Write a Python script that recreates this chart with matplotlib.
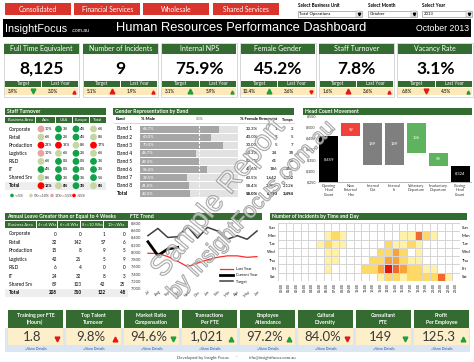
import matplotlib
matplotlib.use("Agg")
import matplotlib.pyplot as plt
from matplotlib.patches import Rectangle, Circle
from matplotlib.colors import ListedColormap, BoundaryNorm
from matplotlib import patheffects as pe
import numpy as np

plt.rcParams["font.family"] = ["Lato", "DejaVu Sans"]

W, H = 474, 362
GREEN = "#346b30"
TAB_RED = "#d9352c"
CREAM = "#fde9b9"
TRI_G = "#1f9e3c"
TRI_R = "#e3161b"

# ---------------- data ----------------
tabs = ["Consolidated", "Financial Services", "Wholesale", "Shared Services"]

kpi_titles = ["Full Time Equivalent", "Number of Incidents", "Internal NPS",
              "Female Gender", "Staff Turnover", "Vacancy Rate"]
kpi_values = ["8,125", "9", "75.9%", "45.2%", "7.8%", "3.1%"]
kpi_target = ["3.9%", "5.1%", "3.1%", "10.4%", "1.6%", "6.8%"]
kpi_target_mark = ["v", "^", "^", "^", "^", "v"]
kpi_target_col = [TRI_G, TRI_R, TRI_G, TRI_G, TRI_R, TRI_R]
kpi_lastyear = ["3.0%", "1.9%", "5.9%", "3.6%", "3.6%", "4.5%"]
kpi_ly_mark = ["^", "^", "^", "v", "^", "^"]
kpi_ly_col = [TRI_R, TRI_R, TRI_G, TRI_R, TRI_R, TRI_G]

areas = ["Corporate", "Retail", "Production", "Logistics", "R&D", "IT", "Shared Srv", "Total"]
regions = ["Asia", "USA", "Europe", "Total"]
turnover = [[10, 3, 4, 6], [6, 2, 4, 8], [23, 16, 8, 17], [10, 6, 2, 6],
            [6, 0, 0, 3], [4, 0, 0, 3], [8, 3, 3, 5], [16, 8, 3, 8]]
turn_legend = ["<=5%", "5%<=10%", "10%<=15%", ">15%"]
turn_colors = ["#12a04a", "#c5d6a0", "#e8a3a6", "#ff0000"]

bands = ["Band 1", "Band 2", "Band 3", "Band 4", "Band 5", "Band 6", "Band 7", "Band 8", "Total"]
male_pct = [66.7, 60.0, 70.0, 46.7, 49.3, 56.4, 39.5, 41.6, 42.0]
perm = [1, 2, 5, 24, 61, 186, 1642, 2909, 4830]
temps = [2, 5, 7, 38, 58, 256, 1002, 2126, 3494]

hc_labels = ["Opening\nHead\nCount", "New\nExternal\nHire", "Internal\nOut", "Internal\nIn",
             "Voluntary\nDeparture", "Involuntary\nDeparture", "Closing\nHead\nCount"]
hc_values = [8459, 59, -189, 189, -136, -58, 8324]
hc_colors = ["black", "#f0413b", "#7f7f7f", "#7f7f7f", "#5fb35f", "#5fb35f", "black"]

leave_cols = ["4<=6 Wks", "6<=8 Wks", "8<=10 Wks", "10<=Wks"]
leave = [[0, 0, 1, 0], [32, 142, 57, 6], [15, 8, 9, 5], [42, 21, 5, 9],
         [6, 4, 0, 0], [24, 32, 8, 3], [89, 103, 42, 25]]

months = ["Jul", "Aug", "Sep", "Oct", "Nov", "Dec", "Jan", "Feb", "Mar", "Apr", "May", "Jun"]
fte_last = [7960, 7960, 7870, 7740, 7590, 7690, 7780, 7850, 7890, 7890, 7850, 7870]
fte_current = [8280, 7900, 8080, 8125]
fte_target = [8450, 8650, 8400, 8420, 8700, 8380, 8680, 8580, 8350, 8450, 8350, 8580]

days = ["Sun", "Mon", "Tue", "Wed", "Thu", "Fri", "Sat"]
hours = [f"{h:02d}:00" for h in range(24)]
incidents = [
    [0, 0, 0, 0, 0, 0, 0, 0, 0, 0, 0, 0, 0, 0, 0, 0, 0, 0, 0, 0, 0, 0, 0, 0],
    [0, 0, 0, 0, 0, 0, 1, 2, 1, 0, 0, 0, 0, 0, 0, 0, 1, 1, 4, 2, 1, 0, 0, 0],
    [0, 0, 0, 0, 0, 1, 2, 1, 1, 0, 0, 0, 0, 0, 2, 1, 1, 2, 1, 0, 0, 0, 0, 0],
    [0, 0, 0, 0, 0, 0, 1, 1, 0, 0, 0, 0, 0, 2, 2, 3, 2, 0, 1, 0, 0, 0, 0, 0],
    [0, 0, 0, 0, 0, 0, 1, 1, 0, 0, 0, 0, 2, 2, 3, 3, 2, 1, 1, 0, 0, 0, 0, 0],
    [0, 0, 0, 0, 0, 0, 1, 0, 0, 0, 0, 2, 2, 3, 5, 4, 3, 2, 2, 1, 1, 0, 0, 0],
    [0, 0, 0, 0, 0, 0, 0, 0, 0, 0, 0, 0, 0, 1, 2, 2, 1, 2, 2, 2, 2, 4, 1, 0],
]

tile_titles = ["Training per FTE\n(Hours)", "Top Talent\nTurnover", "Market Ratio\nCompensation",
               "Transactions\nPer FTE", "Employee\nAttendance", "Cultural\nDiversity",
               "Consultant\nFTE", "Profit\nPer Employee"]
tile_values = ["1.8", "9.8%", "94.6%", "1,021", "97.2%", "84.0%", "149", "125.3"]
tile_mark = ["v", "^", "v", "^", "^", "v", "v", "^"]
tile_col = [TRI_R, TRI_R, TRI_G, TRI_G, TRI_G, TRI_R, TRI_G, TRI_G]

# ---------------- canvas ----------------
fig = plt.figure(figsize=(W / 100, H / 100), dpi=100)
base = fig.add_axes([0, 0, 1, 1])
base.set_xlim(0, W); base.set_ylim(H, 0); base.axis("off")


def rect(x, y, w, h, fc, ec="none", lw=0.4, z=1):
    base.add_patch(Rectangle((x, y), w, h, facecolor=fc, edgecolor=ec, linewidth=lw, zorder=z))


def text(x, y, s, size, color="black", ha="center", va="center", weight="normal", **kw):
    base.text(x, y, s, fontsize=size, color=color, ha=ha, va=va, fontweight=weight, zorder=5, **kw)


def sub(x, y, w, h):
    return fig.add_axes([x / W, 1 - (y + h) / H, w / W, h / H])


def header_bar(x, y, w, title):
    rect(x, y, w, 7, GREEN)
    text(x + 2, y + 3.6, title, 3.7, "white", ha="left", weight="bold")


# top tabs and selectors
for i, t in enumerate(tabs):
    x0 = 5 + i * 69.2
    rect(x0, 3, 66, 12, TAB_RED)
    text(x0 + 33, 9.3, t, 4.8, "white")

for lab, val, x0, w in [("Select Business Unit", "Total Operations", 298, 64),
                        ("Select Month", "October", 368, 49),
                        ("Select Year", "2013", 422, 50)]:
    text(x0, 5.8, lab, 3.3, ha="left", weight="bold")
    rect(x0, 10.8, w, 6.5, "white", ec="#808080")
    text(x0 + 1.5, 14.1, val, 3.1, ha="left")
    rect(x0 + w - 6, 11.3, 5.5, 5.5, "#eeeeee", ec="#909090", lw=0.3)
    base.plot(x0 + w - 3.25, 14.1, marker="v", ms=1.8, color="black", zorder=6)

# title bar
rect(3, 19, 468, 18, "black")
text(5, 28.6, "InsightFocus", 7.8, "white", ha="left", family="Liberation Sans")
text(72, 31, ".com.au", 3.6, "white", ha="left", family="Liberation Sans")
text(241, 28.4, "Human Resources Performance Dashboard", 9.3, "white", family="Liberation Sans")
text(469, 28.6, "October 2013", 6.3, "white", ha="right", family="Liberation Sans")

# KPI cards
for i in range(6):
    x0 = 4 + i * 78.7
    w = 75.5
    rect(x0, 43, w, 54, "white", ec="#c8c8c8", lw=0.5)
    rect(x0 + 0.5, 43.5, w - 1, 10, GREEN)
    text(x0 + w / 2, 48.7, kpi_titles[i], 5.0, "white")
    text(x0 + w / 2, 68.5, kpi_values[i], 12.5, "black", weight="bold")
    rect(x0 + 1, 81, w / 2 - 1.5, 5.5, GREEN)
    rect(x0 + w / 2 + 0.5, 81, w / 2 - 1.5, 5.5, GREEN)
    text(x0 + w / 4 + 0.3, 83.9, "Target", 3.3, "white")
    text(x0 + 3 * w / 4, 83.9, "Last Year", 3.3, "white")
    rect(x0 + 1, 87.5, w - 2, 7.5, CREAM)
    text(x0 + 9, 91.3, kpi_target[i], 3.3)
    base.plot(x0 + 29, 91.3, marker=kpi_target_mark[i], ms=3.4, color=kpi_target_col[i], zorder=6)
    text(x0 + 49, 91.3, kpi_lastyear[i], 3.3)
    base.plot(x0 + w - 5, 91.5, marker=kpi_ly_mark[i], ms=2.2, color=kpi_ly_col[i], zorder=6)

# Staff turnover table
header_bar(5, 108, 101, "Staff Turnover")
cells = [(5, 30), (36, 19), (56, 16), (73, 16), (90, 16)]
for (cx, cw), lab in zip(cells, ["Business Area"] + regions):
    rect(cx, 116.5, cw, 6.5, GREEN)
    text(cx + cw / 2, 119.9, lab, 3.0, "white")
dot_x = [41, 58.5, 76, 93.5]
for r, name in enumerate(areas):
    y = 129 + r * 8.1
    bold = name == "Total"
    if bold:
        rect(5, y - 3.9, 101, 7.8, "#eeeeee")
    text(9, y, name, 3.5, ha="left", weight="bold" if bold else "normal")
    for c, v in enumerate(turnover[r]):
        k = 0 if v <= 5 else 1 if v < 10 else 2 if v < 15 else 3
        base.add_patch(Circle((dot_x[c], y), 2.7, color=turn_colors[k], zorder=4))
        text(dot_x[c] + 4.2, y, f"{v}%", 2.7, ha="left", weight="bold" if bold else "normal")
for k, lab in enumerate(turn_legend):
    lx = [12, 31, 52, 74][k]
    base.add_patch(Circle((lx, 195.5), 1.1, color=turn_colors[k], zorder=4))
    text(lx + 2.3, 195.6, lab, 2.5, "#333333", ha="left")

# Gender representation
header_bar(113, 108, 181, "Gender Representation by Band")
text(116, 119.5, "Band", 3.1, ha="left", weight="bold")
text(141, 119.5, "% Male", 3.1, ha="left", weight="bold")
text(200, 119.5, "50%", 2.8, "#555555")
text(240, 119.5, "% Female", 3.1, ha="left", weight="bold")
text(278, 119.5, "Permanent", 2.8, ha="right", weight="bold")
text(294, 119.5, "Temps", 2.8, ha="right", weight="bold")
base.plot([114, 294], [123, 123], color="#bbbbbb", lw=0.4)
for r, b in enumerate(bands):
    y = 129 + r * 8.1
    bold = b == "Total"
    wt = "bold" if bold else "normal"
    text(117, y, b, 3.5, ha="left", weight=wt)
    text(258, y, f"{100 - male_pct[r]:.1f}%", 3.2, ha="right", weight=wt)
    text(277, y, f"{perm[r]:,}", 3.2, ha="right", weight=wt)
    text(293.5, y, f"{temps[r]:,}", 3.2, ha="right", weight=wt)

gax = sub(140, 125, 98, 73)
yy = np.arange(len(bands))
gax.barh(yy, [82.4] * len(bands), height=0.86, color="#e2e2e2")
gax.barh(yy, male_pct, height=0.86, color="#a6a6a6")
gax.axvline(50, color="white", lw=0.8, ls=(0, (2, 1.5)))
for i, v in enumerate(male_pct):
    gax.text(2, i, f"{v:.1f}%", fontsize=3, color="white", va="center")
gax.set_xlim(0, 82.4); gax.set_ylim(len(bands) - 0.5, -0.5)
gax.axis("off")

# Head count movement (waterfall)
header_bar(303, 108, 169, "Head Count Movement")
hax = sub(318, 114, 153, 68)
level = 0
for i, v in enumerate(hc_values):
    if i == 0 or i == len(hc_values) - 1:
        bottom, height = 0, v
        level = v
        ty = (8250 + v) / 2
    else:
        bottom = level if v > 0 else level + v
        height = abs(v)
        level += v
        ty = bottom + height / 2
    hax.bar(i, height, bottom=bottom, width=0.87, color=hc_colors[i])
    hax.text(i, ty, f"{abs(v):,}", fontsize=3, color="white", ha="center", va="center")
hax.set_ylim(8250, 8559)
hax.set_xlim(-0.5, len(hc_values) - 0.5)
hax.set_yticks(range(8250, 8551, 50))
hax.set_yticklabels([f"{t:,}" for t in range(8250, 8551, 50)])
hax.set_xticks(range(len(hc_labels)))
hax.set_xticklabels(hc_labels, linespacing=1.1)
hax.tick_params(axis="both", length=0, labelsize=2.7, colors="#333333", pad=1.5)
for s in ["top", "right", "left"]:
    hax.spines[s].set_visible(False)
hax.spines["bottom"].set_color("#999999"); hax.spines["bottom"].set_linewidth(0.5)
hax.patch.set_alpha(0)

# Annual leave table
header_bar(5, 213, 123, "Annual Leave Greater than or Equal to 4 Weeks")
lcells = [(5, 31), (37, 20), (58, 22), (81, 22), (104, 24)]
for (cx, cw), lab in zip(lcells, ["Business Area"] + leave_cols):
    rect(cx, 221, cw, 7, GREEN)
    text(cx + cw / 2, 224.6, lab, 2.9, "white")
val_x = [57, 81.5, 105.5, 125.5]
totals = [sum(col) for col in zip(*leave)]
for r, name in enumerate(areas):
    y = 234 + r * 8.4
    row = totals if name == "Total" else leave[r]
    wt = "bold" if name == "Total" else "normal"
    if name == "Total":
        rect(5, y - 4, 123, 8, "#eeeeee")
    text(9, y, name, 3.5, ha="left", weight=wt)
    for c, v in enumerate(row):
        text(val_x[c], y, f"{v}", 3.3, ha="right", weight=wt)

# FTE trend
header_bar(128, 213, 134, "FTE Trend")
fax = sub(143, 223, 119, 65)
xm = np.arange(len(months))
fax.plot(xm, fte_last, color="#ff2a2a", lw=0.9, label="Last Year")
fax.plot(xm[:len(fte_current)], fte_current, color="black", lw=2.0, label="Current Year")
fax.plot(xm, fte_target, color="#404040", lw=1.1, label="Target")
fax.set_ylim(7000, 8800); fax.set_xlim(-0.5, len(months) - 0.5)
fax.set_yticks(range(7000, 8801, 200))
fax.set_yticklabels([f"{t:,}" for t in range(7000, 8801, 200)])
fax.set_xticks(xm); fax.set_xticklabels(months, rotation=45)
fax.tick_params(axis="both", length=0, labelsize=2.9, colors="#333333", pad=1)
for s in fax.spines.values():
    s.set_visible(False)
fax.patch.set_alpha(0)
fax.legend(loc="lower right", fontsize=2.7, frameon=False, handlelength=3.5,
           borderaxespad=0.8, labelspacing=0.6)

# Incidents heatmap
header_bar(270, 213, 197, "Number of Incidents by Time and Day")
iax = sub(278, 223, 182, 58)
cmap = ListedColormap(["white", "#fff1a8", "#ffd965", "#f9a23c", "#f16a2b", "#e8150f"])
norm = BoundaryNorm(np.arange(-0.5, 6), cmap.N)
iax.pcolormesh(np.array(incidents), cmap=cmap, norm=norm, edgecolors="#d5d5d5", linewidth=0.4)
iax.set_ylim(len(days), 0)
iax.set_yticks(np.arange(len(days)) + 0.5)
iax.set_yticklabels(days)
iax.set_xticks(np.arange(24) + 0.5)
iax.set_xticklabels(hours, rotation=90)
iax.tick_params(axis="y", length=0, labelsize=3.0, labelleft=True, labelright=True, pad=1.5)
iax.tick_params(axis="x", length=0, labelsize=2.4, pad=1.5)
for s in iax.spines.values():
    s.set_visible(False)

# bottom tiles
rect(5, 328, 465, 24, "#dce6f2")
for i in range(8):
    x0 = 8 + i * 58
    w = 55
    rect(x0, 310, w, 18, GREEN)
    text(x0 + w / 2, 319, tile_titles[i], 3.7, "white", weight="bold", linespacing=1.5)
    rect(x0, 328, w, 17, "#fdefc9")
    text(x0 + w / 2 - 3, 336.6, tile_values[i], 9.5, "#3a3a3a")
    base.plot(x0 + w - 6, 338.5, marker=tile_mark[i], ms=3.4, color=tile_col[i], zorder=6)
    text(x0 + w / 2, 348.6, "+View Details", 2.5, "#1f4e9a")

text(229, 357.8, "Developed by Insight Focus", 3.1, "#404040", ha="right")
text(237, 357.8, "-", 3.1, "#404040")
text(249, 357.8, "info@insightfocus.com.au", 3.1, "#404040", ha="left")

# watermark
stroke = [pe.withStroke(linewidth=0.9, foreground=(0.5, 0.5, 0.5, 0.75))]
fig.text(218 / W, 1 - 198 / H, "Sample Report", fontsize=21, rotation=51,
         ha="center", va="center", rotation_mode="anchor", family="Liberation Sans",
         color=(1, 1, 1, 0.35), path_effects=stroke, zorder=10)
fig.text(252 / W, 1 - 210 / H, "by InsightFocus.com.au", fontsize=16, rotation=47,
         ha="center", va="center", rotation_mode="anchor", family="Liberation Sans",
         color=(1, 1, 1, 0.35), path_effects=stroke, zorder=10)

fig.savefig("out.png", dpi=100)
